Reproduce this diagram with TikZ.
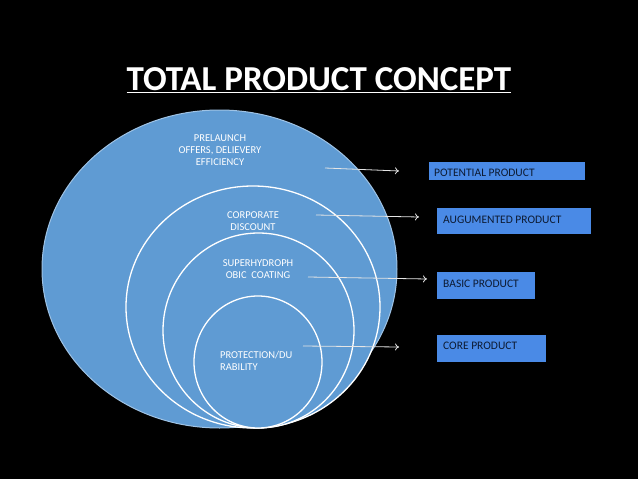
\documentclass[tikz,border=0pt]{standalone}
\usepackage{fontspec}
\setmainfont{Carlito}
\usetikzlibrary{arrows.meta}
\definecolor{circ}{HTML}{5F9BD3}
\definecolor{boxb}{HTML}{4A8AE6}
\definecolor{boxt}{HTML}{0D1B33}
\tikzset{
  ring/.style={fill=circ,draw=white,line width=1.3pt},
  lbl/.style={text=white,font=\fontsize{10.5}{12}\selectfont,align=center,inner sep=0},
  prodt/.style={text=boxt,font=\fontsize{11.5}{13}\selectfont,anchor=west,inner sep=0},
  arr/.style={draw=white!80!gray,line width=0.8pt,-{>[length=4pt,width=7pt]}}
}
\begin{document}
\begin{tikzpicture}[x=1pt,y=-1pt]
\fill[black] (0,0) rectangle (638,479);
\useasboundingbox (0,0) rectangle (638,479);
\node[text=white,font=\bfseries\fontsize{35}{38}\selectfont,inner sep=0] (title) at (319,80) {\underline{TOTAL PRODUCT CONCEPT}};
\draw[ring,draw=circ!60!white,line width=1pt] (219.5,269) ellipse [x radius=177.5,y radius=159];
\draw[ring] (253,307) ellipse [x radius=127,y radius=121];
\draw[ring] (258.5,330.5) ellipse [x radius=95.5,y radius=97.5];
\draw[ring] (258,362) ellipse [x radius=64,y radius=66];
\node[lbl] (t1) at (220,150) {PRELAUNCH\\OFFERS, DELIEVERY\\EFFICIENCY};
\node[lbl] (t2) at (253,221.5) {CORPORATE\\DISCOUNT};
\node[lbl] (t3) at (258,269.5) {SUPERHYDROPH\\OBIC\ \ COATING};
\node[lbl,align=left,anchor=west] (t4) at (220,360.5) {PROTECTION/DU\\RABILITY};
\fill[boxb] (429,162) rectangle (585,180);
\fill[boxb] (437,208) rectangle (591,234);
\fill[boxb] (437,272) rectangle (535,299);
\fill[boxb] (437,335) rectangle (546,362);
\node[prodt] (p1) at (434,173) {POTENTIAL PRODUCT};
\node[prodt] (p2) at (443,220) {AUGUMENTED PRODUCT};
\node[prodt] (p3) at (443,284) {BASIC PRODUCT};
\node[prodt] (p4) at (443,346) {CORE PRODUCT};
\coordinate (a1) at (325,168); \coordinate (b1) at (399,171);
\coordinate (a2) at (316,215); \coordinate (b2) at (419,217);
\coordinate (a3) at (308,277); \coordinate (b3) at (427,279);
\coordinate (a4) at (303,346); \coordinate (b4) at (399,347);
\draw[arr] (a1) -- (b1);
\draw[arr] (a2) -- (b2);
\draw[arr] (a3) -- (b3);
\draw[arr] (a4) -- (b4);
\end{tikzpicture}
\end{document}
